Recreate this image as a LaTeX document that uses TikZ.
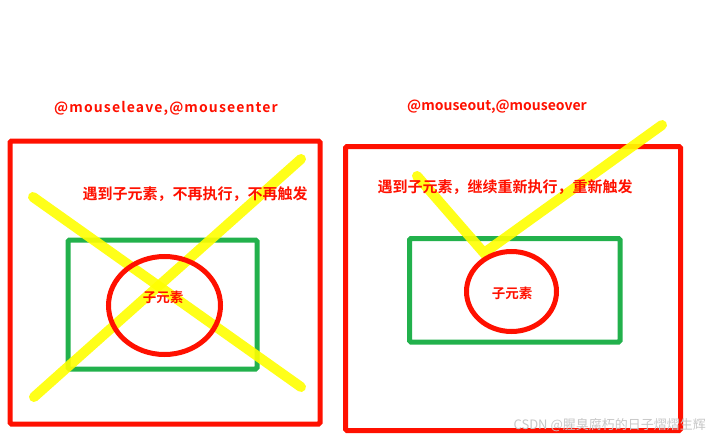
\documentclass[tikz,border=0pt]{standalone}
\usepackage{fontspec}
\newfontfamily\cjk{Noto Sans CJK SC}[BoldFont={* Bold}]
\usetikzlibrary{shapes.geometric}
\definecolor{redline}{RGB}{255,16,0}
\definecolor{greenline}{RGB}{34,177,76}
\definecolor{yellowline}{RGB}{255,255,0}
\tikzset{
  outerbox/.style={draw=redline, line width=5pt, rounded corners=1.5pt},
  innerbox/.style={draw=greenline, line width=5pt, rounded corners=1.5pt},
  mark line/.style={draw=yellowline, line width=10pt, line cap=round, line join=miter, opacity=0.9},
  childring/.style={draw=redline, line width=5pt, ellipse, inner sep=0pt},
  title/.style={text=redline, font=\cjk\bfseries\fontsize{14}{16}\selectfont, inner sep=0pt},
  note/.style={text=redline, font=\cjk\bfseries\fontsize{15}{17}\selectfont, inner sep=0pt},
  childlabel/.style={text=redline, font=\cjk\bfseries\fontsize{13.5}{15}\selectfont, inner sep=0pt},
  watermark/.style={text=gray!45, font=\cjk\fontsize{13}{15}\selectfont, inner sep=0pt}
}
\begin{document}
\begin{tikzpicture}[x=1pt,y=-1pt]
\useasboundingbox (0,0) rectangle (718,439);
% left panel
\node[title] (t1) at (166,108) {\addfontfeature{LetterSpace=8}@mouseleave,@mouseenter};
\draw[outerbox] (10,141) rectangle (320,424);
\draw[innerbox] (68,240) rectangle (257,369);
\coordinate (x1a) at (33,197);
\coordinate (x1b) at (301,387);
\coordinate (x2a) at (34,397);
\coordinate (x2b) at (301,159);
\draw[mark line] (x1a) -- (x1b);
\draw[mark line] (x2a) -- (x2b);
\node[childring, minimum width=112pt, minimum height=98pt] (e1) at (164.5,305.5) {};
\node[childlabel] (c1) at (163,297) {子元素};
\node[note] (n1) at (195,194) {遇到子元素，不再执行，不再触发};
% right panel
\node[title] (t2) at (497,107) {@mouseout,@mouseover};
\draw[outerbox] (345.5,146.5) rectangle (680.5,430.5);
\draw[innerbox] (409.5,238.5) rectangle (620,342);
\coordinate (v1) at (417,176);
\coordinate (v2) at (484,253);
\coordinate (v3) at (662,125);
\draw[mark line] (v1) -- (v2) -- (v3);
\node[childring, minimum width=90pt, minimum height=80pt] (e2) at (511.5,291.5) {};
\node[childlabel] (c2) at (512,293) {子元素};
\node[note] (n2) at (505,187) {遇到子元素，继续重新执行，重新触发};
\node[watermark, anchor=east] (wm) at (706,425) {CSDN @腥臭腐朽的日子熠熠生辉};
\end{tikzpicture}
\end{document}
